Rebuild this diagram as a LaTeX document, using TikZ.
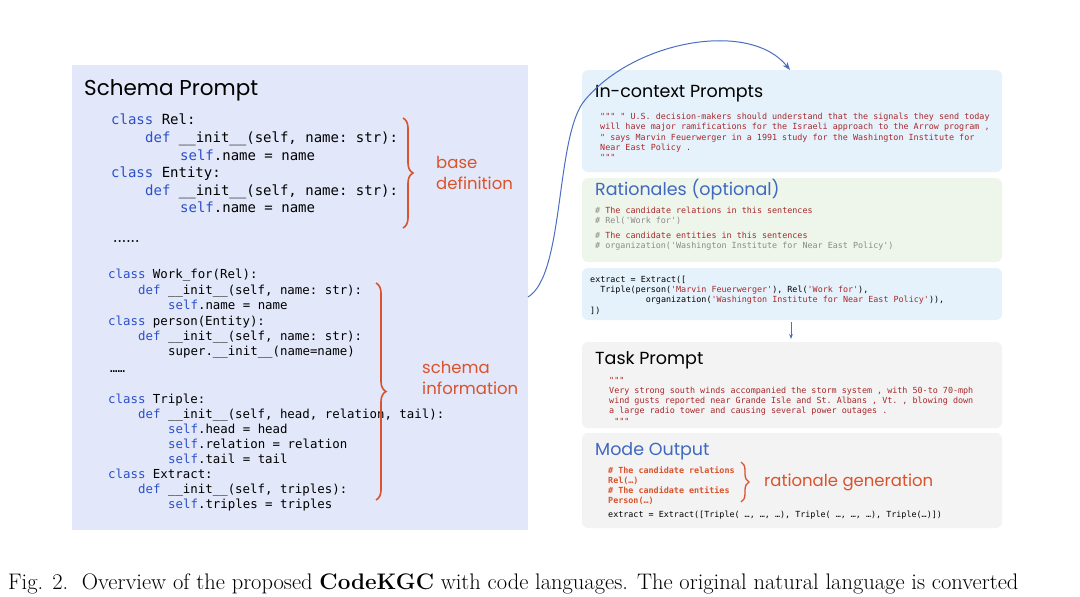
\documentclass[tikz,border=0pt]{standalone}
\usepackage{fontspec}
\setmonofont{DejaVu Sans Mono}
\newfontfamily\hand{Poppins}
\usetikzlibrary{decorations.pathreplacing,arrows.meta}
\definecolor{kwblue}{HTML}{2B50C8}
\definecolor{accred}{HTML}{D9532C}
\definecolor{strred}{HTML}{A8282A}
\definecolor{lavbg}{HTML}{E2E7F9}
\definecolor{bluebg}{HTML}{E5F2FB}
\definecolor{greenbg}{HTML}{EEF5EA}
\definecolor{greybg}{HTML}{F3F3F3}
\definecolor{curveblue}{HTML}{4A6FC0}
\definecolor{commgrey}{HTML}{8A8A8A}
\definecolor{ttlblue}{HTML}{3F68C0}
\newcommand{\kw}[1]{\textcolor{kwblue}{#1}}
\newcommand{\rs}[1]{\textcolor{strred}{#1}}
\begin{document}
\begin{tikzpicture}[x=1pt,y=-1pt,
  codeA/.style={anchor=base west,inner sep=0pt,font=\ttfamily\fontsize{14}{16}\selectfont},
  codeB/.style={anchor=base west,inner sep=0pt,font=\ttfamily\fontsize{12.4}{14}\selectfont},
  small/.style={anchor=north west,inner sep=0pt,align=left,font=\ttfamily\fontsize{8.4}{10.2}\selectfont},
  ttl/.style={anchor=west,inner sep=0pt,font=\hand\fontsize{17.5}{20}\selectfont},
  lbl/.style={anchor=west,inner sep=0pt,align=left,text=accred,font=\hand\fontsize{16.5}{21}\selectfont},
  panel/.style={rounded corners=6pt,draw=none},
  brc/.style={decorate,decoration={brace,amplitude=10pt},draw=accred,line width=1.6pt}]
\useasboundingbox (0,0) rectangle (1080,597);
% left panel
\fill[lavbg] (72,65) rectangle (528,530);
\node[ttl,font=\hand\fontsize{21.5}{24}\selectfont] (sp) at (84,90) {Schema Prompt};
\node[codeA] (a1) at (111,124) {\kw{class} Rel:};
\node[codeA] (a2) at (145,142) {\kw{def} \_\_init\_\_(self, name: str):};
\node[codeA] (a3) at (180,160) {\kw{self}.name = name};
\node[codeA] (a4) at (111,177) {\kw{class} Entity:};
\node[codeA] (a5) at (145,195) {\kw{def} \_\_init\_\_(self, name: str):};
\node[codeA] (a6) at (180,212) {\kw{self}.name = name};
\node[codeA,font=\bfseries\fontsize{14}{16}\selectfont] (a7) at (113,242) {......};
\node[codeB] (b1) at (108,278) {\kw{class} Work\_for(Rel):};
\node[codeB] (b2) at (138,294) {\kw{def} \_\_init\_\_(self, name: str):};
\node[codeB] (b3) at (168,309) {\kw{self}.name = name};
\node[codeB] (b4) at (108,325) {\kw{class} person(Entity):};
\node[codeB] (b5) at (138,340) {\kw{def} \_\_init\_\_(self, name: str):};
\node[codeB] (b6) at (168,355) {super.\_\_init\_\_(name=name)};
\node[codeB] (b7) at (110,372) {……};
\node[codeB] (b8) at (108,403) {\kw{class} Triple:};
\node[codeB] (b9) at (138,418) {\kw{def} \_\_init\_\_(self, head, relation, tail):};
\node[codeB] (b10) at (168,433) {\kw{self}.head = head};
\node[codeB] (b11) at (168,448) {\kw{self}.relation = relation};
\node[codeB] (b12) at (168,463) {\kw{self}.tail = tail};
\node[codeB] (b13) at (108,478) {\kw{class} Extract:};
\node[codeB] (b14) at (138,493) {\kw{def} \_\_init\_\_(self, triples):};
\node[codeB] (b15) at (168,508) {\kw{self}.triples = triples};
\draw[brc] (403,118) -- (403,228);
\node[lbl] (base) at (436,173) {base\\definition};
\draw[brc] (376,283) -- (376,500);
\node[lbl] (schema) at (422,378) {schema\\information};
% right panels
\fill[panel,bluebg] (582,70) rectangle (1002,172);
\node[ttl] (icp) at (595,94) {In-context Prompts};
\node[small,text=strred] (ict) at (600,113) {""" " U.S. decision-makers should understand that the signals they send today\\will have major ramifications for the Israeli approach to the Arrow program ,\\" says Marvin Feuerwerger in a 1991 study for the Washington Institute for\\Near East Policy .\\"""};
\fill[panel,greenbg] (582,178) rectangle (1002,262);
\node[ttl,text=ttlblue] (rat) at (595,190) {Rationales (optional)};
\node[small,text=commgrey] (ratt) at (595,207) {\# \rs{The candidate relations in this sentences}\\\# Rel('Work for')\\[4pt]\# \rs{The candidate entities in this sentences}\\\# organization('Washington Institute for Near East Policy')};
\fill[panel,bluebg] (582,268) rectangle (1002,320);
\node[small] (ext) at (590,276) {extract = Extract([\\\ \ Triple(person(\rs{'Marvin Feuerwerger'}), Rel(\rs{'Work for'}),\\\ \ \ \ \ \ \ \ \ \ \ organization(\rs{'Washington Institute for Near East Policy'})),\\])};
\fill[panel,greybg] (582,342) rectangle (1002,428);
\node[ttl] (tp) at (595,360) {Task Prompt};
\node[small,text=strred] (tpt) at (609,377) {"""\\Very strong south winds accompanied the storm system , with 50-to 70-mph\\wind gusts reported near Grande Isle and St. Albans , Vt. , blowing down\\a large radio tower and causing several power outages .\\\ """};
\fill[panel,greybg] (582,433) rectangle (1002,528);
\node[ttl,text=ttlblue] (mo) at (595,451) {Mode Output};
\node[small,text=accred,font=\ttfamily\bfseries\fontsize{8.4}{10.2}\selectfont] (mot) at (608,466) {\# The candidate relations\\Rel(…)\\\# The candidate entities\\Person(…)};
\draw[brc,line width=1.3pt,decoration={brace,amplitude=8pt}] (741,462) -- (741,502);
\node[lbl] (rg) at (764,482) {rationale generation};
\node[small] (moe) at (608,511) {extract = Extract([Triple( …, …, …), Triple( …, …, …), Triple(…)])};
% connectors
\coordinate (p1) at (528,297);
\coordinate (p2) at (790,70);
\draw[curveblue,line width=1pt,-{Stealth[length=8pt]}] (p1) .. controls (565,275) and (555,135) .. (585,100) .. controls (635,40) and (750,20) .. (p2);
\coordinate (q1) at (791,322);
\coordinate (q2) at (791,339);
\draw[curveblue,line width=0.8pt,-{Stealth[length=5pt]}] (q1) -- (q2);
% caption
\node[anchor=base west,inner sep=0pt,font=\fontsize{22.5}{26}\selectfont] (cap) at (8,589) {Fig. 2.\ \ Overview of the proposed \textbf{CodeKGC} with code languages. The original natural language is converted};
\end{tikzpicture}
\end{document}
